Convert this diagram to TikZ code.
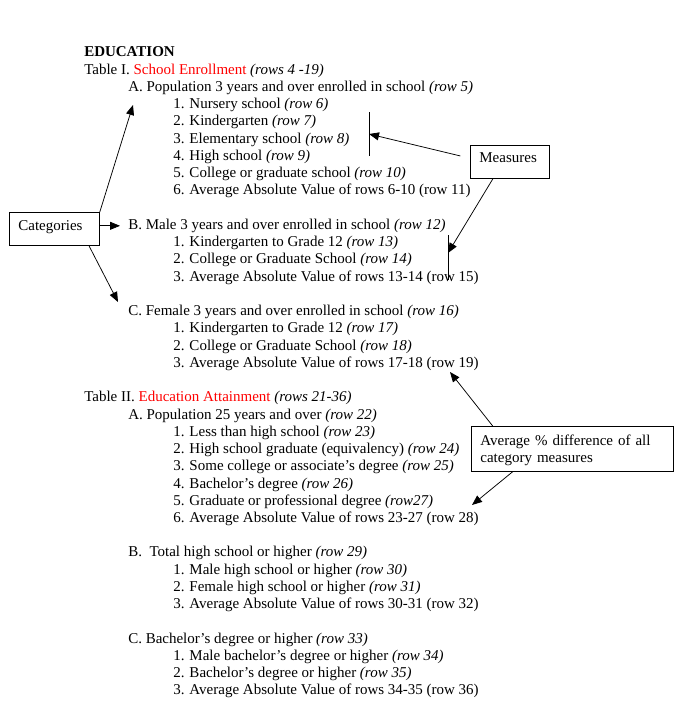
\documentclass[tikz,border=0pt]{standalone}
\usepackage{fontspec}
\setmainfont{Liberation Serif}
\usetikzlibrary{arrows.meta, calc}

% baseline of text line #1
\newcommand{\rowy}[1]{57+17.24*#1}

\begin{document}
\begin{tikzpicture}[
      x=0.8pt, y=-0.8pt,
      font=\fontsize{12}{13.8}\selectfont,
      row/.style={anchor=base west, inner sep=0pt},
      notebox/.style={draw, line width=0.6pt, anchor=base west, align=left,
        inner xsep=7.2pt, inner ysep=0pt, text height=14pt, text depth=12.5pt},
      arr/.style={-{Triangle[length=8pt, width=6.4pt]}, line width=0.6pt},
      bar/.style={line width=0.6pt}
    ]
      \useasboundingbox (0,0) rectangle (694,723);

      % Table I
      \node[row] (title) at (84,{\rowy{0}}) {\textbf{EDUCATION}};
      \node[row] (tabI) at (84,{\rowy{1}})
        {Table I. \textcolor{red}{School Enrollment} \textit{(rows 4 -19)}};
      \node[row] (secA) at (128,{\rowy{2}})
        {A. Population 3 years and over enrolled in school \textit{(row 5)}};
      \node[row] (a1) at (173,{\rowy{3}}) {1. Nursery school \textit{(row 6)}};
      \node[row] (a2) at (173,{\rowy{4}}) {2. Kindergarten \textit{(row 7)}};
      \node[row] (a3) at (173,{\rowy{5}}) {3. Elementary school \textit{(row 8)}};
      \node[row] (a4) at (173,{\rowy{6}}) {4. High school \textit{(row 9)}};
      \node[row] (a5) at (173,{\rowy{7}}) {5. College or graduate school \textit{(row 10)}};
      \node[row] (a6) at (173,{\rowy{8}}) {6. Average Absolute Value of rows 6-10 (row 11)};
      \node[row] (secB) at (128,{\rowy{10}})
        {B. Male 3 years and over enrolled in school \textit{(row 12)}};
      \node[row] (b1) at (173,{\rowy{11}}) {1. Kindergarten to Grade 12 \textit{(row 13)}};
      \node[row] (b2) at (173,{\rowy{12}}) {2. College or Graduate School \textit{(row 14)}};
      \node[row] (b3) at (173,{\rowy{13}}) {3. Average Absolute Value of rows 13-14 (row 15)};
      \node[row] (secC) at (128,{\rowy{15}})
        {C. Female 3 years and over enrolled in school \textit{(row 16)}};
      \node[row] (c1) at (173,{\rowy{16}}) {1. Kindergarten to Grade 12 \textit{(row 17)}};
      \node[row] (c2) at (173,{\rowy{17}}) {2. College or Graduate School \textit{(row 18)}};
      \node[row] (c3) at (173,{\rowy{18}}) {3. Average Absolute Value of rows 17-18 (row 19)};

      % Table II
      \node[row] (tabII) at (84,{\rowy{20}})
        {Table II. \textcolor{red}{Education Attainment} \textit{(rows 21-36)}};
      \node[row] (attA) at (128,{\rowy{21}}) {A. Population 25 years and over \textit{(row 22)}};
      \node[row] (d1) at (173,{\rowy{22}}) {1. Less than high school \textit{(row 23)}};
      \node[row] (d2) at (173,{\rowy{23}}) {2. High school graduate (equivalency) \textit{(row 24)}};
      \node[row] (d3) at (173,{\rowy{24}}) {3. Some college or associate’s degree \textit{(row 25)}};
      \node[row] (d4) at (173,{\rowy{25}}) {4. Bachelor’s degree \textit{(row 26)}};
      \node[row] (d5) at (173,{\rowy{26}}) {5. Graduate or professional degree \textit{(row27)}};
      \node[row] (d6) at (173,{\rowy{27}}) {6. Average Absolute Value of rows 23-27 (row 28)};
      \node[row] (attB) at (128,{\rowy{29}}) {B.\ \ Total high school or higher \textit{(row 29)}};
      \node[row] (e1) at (173,{\rowy{30}}) {1. Male high school or higher \textit{(row 30)}};
      \node[row] (e2) at (173,{\rowy{31}}) {2. Female high school or higher \textit{(row 31)}};
      \node[row] (e3) at (173,{\rowy{32}}) {3. Average Absolute Value of rows 30-31 (row 32)};
      \node[row] (attC) at (128,{\rowy{34}}) {C. Bachelor’s degree or higher \textit{(row 33)}};
      \node[row] (f1) at (173,{\rowy{35}}) {1. Male bachelor’s degree or higher \textit{(row 34)}};
      \node[row] (f2) at (173,{\rowy{36}}) {2. Bachelor’s degree or higher \textit{(row 35)}};
      \node[row] (f3) at (173,{\rowy{37}}) {3. Average Absolute Value of rows 34-35 (row 36)};

      % call-out boxes
      \node[notebox, text width=57.6pt] (cat) at (9,230) {Categories};
      \node[notebox, text width=48.8pt] (meas) at (470,162.7) {Measures};
      \node[notebox, text width=147.2pt, text height=15pt, text depth=21pt] (avg)
        at (471,445) {Average \% difference of all\\category measures};

      % measure brackets
      \coordinate (bar1top) at (369,112);
      \coordinate (bar1bot) at (369,156);
      \coordinate (bar2top) at (448,235);
      \coordinate (bar2bot) at (448,280);
      \draw[bar] (bar1top) -- (bar1bot);
      \draw[bar] (bar2top) -- (bar2bot);

      \coordinate (tipA) at (133,105);
      \coordinate (tipC) at (118,302);
      \coordinate (tipR19) at (450,372);
      \coordinate (tipR27) at (472,505);

      \draw[arr] (cat.north east) -- (tipA);
      \draw[arr, shorten >=6.4pt] (cat.east |- secB.west) -- (secB.west);
      \draw[arr] (cat.-26) -- (tipC);
      \draw[arr, shorten <=8pt] (meas.175) -- ($(bar1top)!0.5!(bar1bot)$);
      \draw[arr] (meas.225) -- ($(bar2top)!0.4!(bar2bot)$);
      \draw[arr] (avg.164) -- (tipR19);
      \draw[arr] (avg.201) -- (tipR27);
    \end{tikzpicture}
\end{document}
